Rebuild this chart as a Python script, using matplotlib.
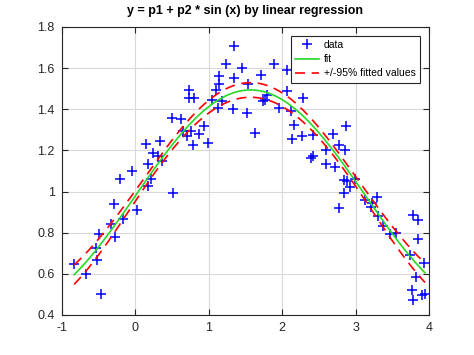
import numpy as np
import matplotlib
matplotlib.use('Agg')
import matplotlib.pyplot as plt
from matplotlib import rcParams
rcParams['font.family'] = ['Liberation Sans', 'DejaVu Sans']
rcParams['axes.unicode_minus'] = False

# Data points
x_data = [0.150, 0.340, 0.249, 0.317, 0.363, 0.181, -0.037, -0.204, 0.214, 0.181,
          0.521, -0.282, 0.023, -0.159, -0.331, -0.494, -0.276, -0.535, -0.513, -0.830,
          -0.667, -0.459,
          1.343, 1.238, 1.456, 1.884, 2.072, 1.136, 1.347, 1.707, 1.537, 1.143,
          1.102, 0.735, 0.735, 0.800, 1.045, 1.180, 1.125, 1.336, 1.520, 1.637,
          1.796, 1.769, 1.746, 2.072, 2.286, 1.955, 2.118, 2.163, 2.136, 2.276,
          2.418, 2.690, 2.871, 2.776, 2.861, 2.603, 2.422, 2.395, 2.599, 2.725,
          2.850, 2.884, 2.929, 2.844, 2.780, 2.993, 3.136, 3.299, 3.218, 3.215,
          3.306, 3.378, 3.469, 3.551, 3.786, 3.854, 3.857, 3.737, 3.932, 3.827,
          3.773, 3.786, 3.905, 3.946,
          0.507, 0.626, 0.943, 0.657, 0.766, 0.703, 0.867, 0.793, 0.997]
y_data = [1.231, 1.246, 1.186, 1.173, 1.150, 1.134, 1.101, 1.061, 1.060, 1.027,
          0.994, 0.938, 0.909, 0.868, 0.842, 0.795, 0.781, 0.724, 0.667, 0.646,
          0.599, 0.502,
          1.709, 1.622, 1.603, 1.618, 1.591, 1.562, 1.550, 1.565, 1.522, 1.523,
          1.494, 1.494, 1.457, 1.457, 1.445, 1.440, 1.404, 1.403, 1.380, 1.283,
          1.467, 1.445, 1.438, 1.489, 1.457, 1.408, 1.393, 1.324, 1.254, 1.270,
          1.274, 1.280, 1.320, 1.226, 1.202, 1.200, 1.175, 1.162, 1.134, 1.118,
          1.056, 1.053, 1.024, 0.993, 0.922, 1.061, 0.961, 0.972, 0.944, 0.925,
          0.881, 0.833, 0.795, 0.800, 0.886, 0.860, 0.767, 0.694, 0.653, 0.586,
          0.523, 0.474, 0.495, 0.500,
          1.359, 1.351, 1.320, 1.296, 1.296, 1.270, 1.280, 1.226, 1.238]

x = np.array(x_data)
y = np.array(y_data)

# Linear regression y = p1 + p2*sin(x)
X = np.column_stack((np.ones_like(x), np.sin(x)))
p, *_ = np.linalg.lstsq(X, y, rcond=None)
resid = y - X @ p
n = len(x)
s2 = np.sum(resid**2) / (n - 2)
XtX_inv = np.linalg.inv(X.T @ X)

# fitted curve and 95% band on the fitted values
xf = np.linspace(x.min(), x.max(), 300)
Xf = np.column_stack((np.ones_like(xf), np.sin(xf)))
yf = Xf @ p
se = np.sqrt(s2 * np.sum((Xf @ XtX_inv) * Xf, axis=1))
t95 = 1.985
lo, hi = yf - t95 * se, yf + t95 * se

fig = plt.figure(figsize=(4.74, 3.55), dpi=100)
ax = fig.add_axes([0.13, 0.1127, 0.775, 0.8113])
ax.plot(x, y, '+', color='b', markersize=6.5, markeredgewidth=1.1, label='data')
ax.plot(xf, yf, '-', color=(0.15, 0.85, 0.15), linewidth=1.2, label='fit')
ax.plot(xf, lo, '--', color='r', linewidth=1.2, dashes=(6, 4), label='+/-95% fitted values')
ax.plot(xf, hi, '--', color='r', linewidth=1.2, dashes=(6, 4))

ax.set_xlim(-1, 4)
ax.set_ylim(0.4, 1.8)
ax.set_xticks([-1, 0, 1, 2, 3, 4])
ax.set_yticks([0.4, 0.6, 0.8, 1.0, 1.2, 1.4, 1.6, 1.8])
ax.set_yticklabels(['0.4', '0.6', '0.8', '1', '1.2', '1.4', '1.6', '1.8'])
ax.grid(True, color='#d9d9d9', linewidth=0.8)
ax.set_axisbelow(True)
ax.tick_params(direction='in', top=True, right=True, labelsize=9, length=4,
               colors='#262626', pad=5)
for sp in ax.spines.values():
    sp.set_color('#262626')
    sp.set_linewidth(0.8)
ax.set_title('y = p1 + p2 * sin (x) by linear regression', fontsize=9, fontweight='bold', pad=9)
leg = ax.legend(loc='upper right', fontsize=7.5, fancybox=False, framealpha=1,
                edgecolor='#262626', borderaxespad=0.85, borderpad=0.4,
                handlelength=2.3, handletextpad=0.5, labelspacing=0.4)
leg.get_frame().set_linewidth(0.8)

plt.savefig('out.png', dpi=100)
